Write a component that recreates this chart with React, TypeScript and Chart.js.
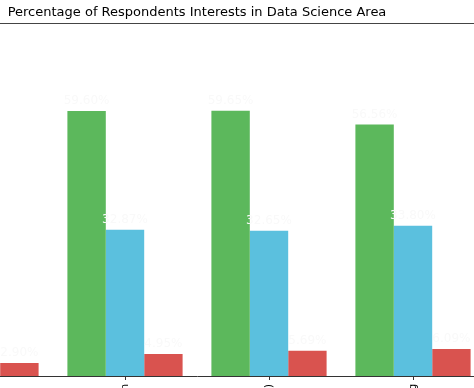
import React, { useEffect, useRef } from "react";
import { Chart, registerables } from "chart.js";

Chart.register(...registerables);

const chartTitle = "Percentage of Respondents Interests in Data Science Area";
const categories = ["Machine Learning", "Data Visualization", "Big Data (Spark / Hadoop)", "Deep Learning"];
const seriesNames = ["Very interested", "Somewhat interested", "Not interested"];
const veryInterested = [null, 59.6, 59.65, 56.56];
const somewhatInterested = [null, 32.87, 32.65, 33.8];
const notInterested = [2.9, 4.95, 5.69, 6.09];
const seriesColors = ["#5cb85c", "#5bc0de", "#d9534f"];

const decor = {
  id: "decor",
  afterDatasetsDraw(chart: any) {
    const { ctx, chartArea } = chart;
    ctx.save();
    ctx.font = "12px 'DejaVu Sans', sans-serif";
    ctx.fillStyle = "#f9f9f9";
    ctx.textAlign = "center";
    ctx.textBaseline = "alphabetic";
    chart.data.datasets.forEach((ds: any, i: number) => {
      const meta = chart.getDatasetMeta(i);
      meta.data.forEach((el: any, j: number) => {
        const v = ds.data[j];
        if (v == null) return;
        ctx.fillText(v.toFixed(2) + "%", el.x, el.y - 7);
      });
    });
    ctx.strokeStyle = "#444";
    ctx.lineWidth = 1;
    ctx.beginPath();
    ctx.moveTo(chartArea.left, Math.round(chartArea.top) + 0.5);
    ctx.lineTo(chartArea.right, Math.round(chartArea.top) + 0.5);
    ctx.stroke();
    ctx.restore();
  },
};

export default function App() {
  const ref = useRef<HTMLCanvasElement | null>(null);
  useEffect(() => {
    if (!ref.current) return;
    const data = [veryInterested, somewhatInterested, notInterested];
    const chart = new Chart(ref.current, {
      type: "bar",
      data: {
        labels: categories,
        datasets: seriesNames.map((name, i) => ({
          label: name,
          data: data[i],
          backgroundColor: seriesColors[i],
          borderWidth: 0,
          categoryPercentage: 0.8,
          barPercentage: 1,
        })),
      },
      options: {
        responsive: false,
        animation: false,
        devicePixelRatio: 1,
        layout: { padding: { left: 0, right: 1, top: 0, bottom: 0 } },
        plugins: {
          legend: { display: false },
          tooltip: { enabled: false },
          title: {
            display: true,
            text: chartTitle,
            color: "#000",
            font: { family: "'DejaVu Sans', sans-serif", size: 13, weight: "normal", lineHeight: 1.2 },
            padding: { top: 5, bottom: 2.4 },
          },
        },
        scales: {
          x: {
            grid: { display: true, drawOnChartArea: false, drawTicks: true, tickLength: 4, offset: false, color: "#333" },
            border: { display: true, color: "#333", width: 1 },
            ticks: {
              autoSkip: false,
              minRotation: 90,
              maxRotation: 90,
              padding: 4,
              color: "#000",
              font: { family: "'DejaVu Sans', sans-serif", size: 10 },
            },
            afterFit: (s: any) => {
              s.height = 144;
            },
          },
          y: { display: false, min: 0, max: 79.4 },
        },
      } as any,
      plugins: [decor],
    });
    return () => chart.destroy();
  }, []);
  return (
    <div style={{ position: "fixed", left: 0, top: 0, width: 474, height: 388, overflow: "hidden", background: "#fff" }}>
      <canvas ref={ref} width={577} height={520} style={{ position: "absolute", left: -91, top: 0 }} />
    </div>
  );
}
